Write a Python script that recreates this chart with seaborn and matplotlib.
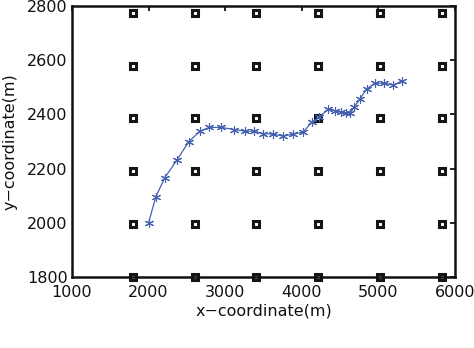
import matplotlib
matplotlib.use("Agg")
import matplotlib.pyplot as plt
import seaborn as sns
import pandas as pd
import numpy as np

# Sensor grid (anchor nodes)
grid_x = [1790, 2600, 3405, 4215, 5020, 5830]
grid_y = [1800, 1995, 2190, 2385, 2580, 2775]

# Estimated trajectory of the moving target
track_x = [2000, 2093, 2210, 2371, 2523, 2671, 2792, 2949, 3119, 3258,
           3380, 3497, 3620, 3759, 3889, 4020, 4129, 4229, 4346, 4433,
           4508, 4577, 4629, 4685, 4760, 4847, 4956, 5077, 5195, 5304]
track_y = [2000, 2095, 2166, 2232, 2299, 2338, 2352, 2352, 2344, 2338,
           2338, 2329, 2327, 2320, 2327, 2335, 2371, 2391, 2419, 2414,
           2408, 2406, 2404, 2428, 2457, 2494, 2515, 2515, 2508, 2523]

x_ticks = [1000, 2000, 3000, 4000, 5000, 6000]
y_ticks = [1800, 2000, 2200, 2400, 2600, 2800]

sns.set_theme(style="white")
plt.rcParams["font.family"] = ["DejaVu Sans"]

gx, gy = np.meshgrid(grid_x, grid_y)
grid_df = pd.DataFrame({"x": gx.ravel(), "y": gy.ravel()})
track_df = pd.DataFrame({"x": track_x, "y": track_y})

fig = plt.figure(figsize=(4.74, 3.48), dpi=100)
ax = fig.add_axes([72 / 474, 1 - 277 / 348, (455 - 72) / 474, (277 - 6) / 348])

ax.plot(grid_df["x"], grid_df["y"], linestyle="none", marker="s",
        markersize=3.8, markeredgewidth=2.2, markerfacecolor="white",
        markeredgecolor="#151515", clip_on=False, zorder=2)

sns.lineplot(data=track_df, x="x", y="y", sort=False, ax=ax,
             color="#4660b0", linewidth=0.9, marker=(6, 2, 0), markersize=6.5,
             markeredgecolor="#4660b0", markeredgewidth=0.8, zorder=3)

ax.set_xlim(1000, 6000)
ax.set_ylim(1800, 2800)
ax.set_xticks(x_ticks)
ax.set_yticks(y_ticks)
ax.tick_params(direction="in", length=3.5, width=1.3, labelsize=11.5,
               top=True, right=True, colors="#111111")
ax.tick_params(axis="x", pad=6)
ax.tick_params(axis="y", pad=3)
for s in ax.spines.values():
    s.set_linewidth(1.8)
    s.set_color("#111111")
    s.set_zorder(2.5)

ax.set_xlabel("x\u2212coordinate(m)", fontsize=11.5, labelpad=2, color="#111111")
ax.set_ylabel("y\u2212coordinate(m)", fontsize=11.5, labelpad=7, color="#111111")

fig.savefig("out.png", dpi=100)
